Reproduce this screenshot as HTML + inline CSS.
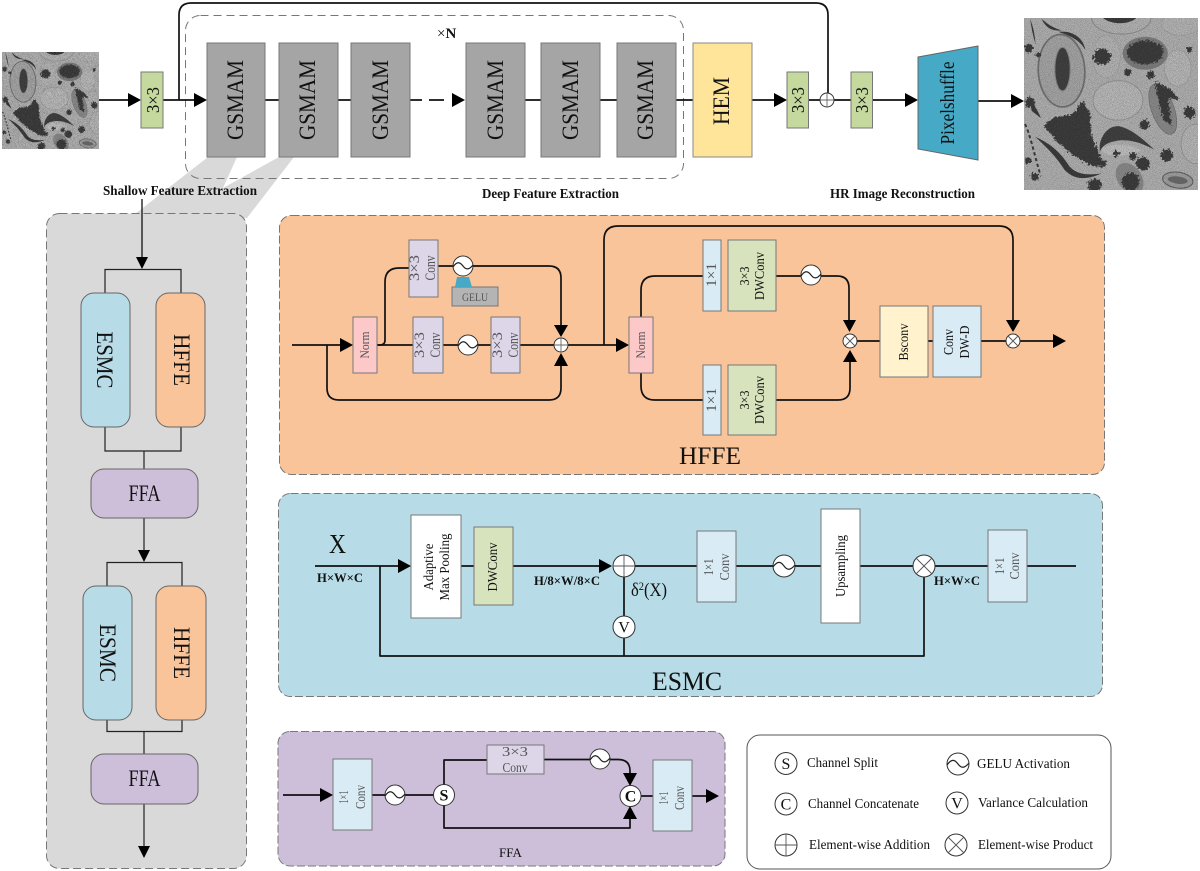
<!DOCTYPE html>
<html><head><meta charset="utf-8"><style>
html,body{margin:0;padding:0;background:#fff;width:1200px;height:871px;overflow:hidden}
svg{display:block;filter:blur(0.35px)}
text{font-family:"Liberation Serif",serif;fill:#111}
.l{fill:none;stroke:#111;stroke-width:1.7;stroke-linejoin:round}
.b{stroke:#777;stroke-width:1}
.g{fill:#555}
.bd{font-weight:bold}
</style></head><body>
<svg width="1200" height="871" viewBox="0 0 1200 871" xmlns="http://www.w3.org/2000/svg">
<defs>
<filter id="jag" x="-5%" y="-5%" width="110%" height="110%"><feTurbulence type="fractalNoise" baseFrequency="0.16" numOctaves="3" seed="4"/><feDisplacementMap in="SourceGraphic" scale="20" xChannelSelector="R" yChannelSelector="G"/></filter>
<filter id="grain" x="0" y="0" width="1" height="1"><feTurbulence type="fractalNoise" baseFrequency="0.55" numOctaves="2" seed="9"/><feColorMatrix type="matrix" values="0 0 0 0 0.1  0 0 0 0 0.1  0 0 0 0 0.1  1.3 0 0 0 -0.42"/></filter>
<g id="gelu"><circle r="10" fill="#fff" stroke="#333" stroke-width="1"/><path d="M-10 1C-6-5-3-4 0 0S6 4 10-1" fill="none" stroke="#222" stroke-width="1.2"/></g>
<g id="plus"><circle r="7" fill="#fff" stroke="#333" stroke-width="1"/><path d="M-7 0H7M0-7V7" stroke="#666" stroke-width=".9"/></g>
<g id="times"><circle r="7" fill="#fff" stroke="#333" stroke-width="1"/><path d="M-5-5L5 5M-5 5L5-5" stroke="#555" stroke-width=".9"/></g>
<g id="plusb"><circle r="11" fill="#fff" stroke="#333" stroke-width="1"/><path d="M-11 0H11M0-11V11" stroke="#555" stroke-width=".9"/></g>
<g id="timesb"><circle r="11" fill="#fff" stroke="#333" stroke-width="1"/><path d="M-8-8L8 8M-8 8L8-8" stroke="#555" stroke-width=".9"/></g>
<g id="gelub"><circle r="11" fill="#fff" stroke="#333" stroke-width="1"/><path d="M-11 1C-6-6-3-4 0 0S6 5 11-1" fill="none" stroke="#222" stroke-width="1.2"/></g>
<symbol id="micro" viewBox="27 18 524 522" preserveAspectRatio="none">
<rect x="27" y="18" width="524" height="522" fill="#b9b9b9"/>
<ellipse cx="320" cy="15" rx="90" ry="52" fill="#bcbcbc" stroke="#8f8f8f" stroke-width="3"/>
<ellipse cx="500" cy="35" rx="60" ry="35" fill="#bebebe" stroke="#a5a5a5" stroke-width="2"/>
<ellipse cx="140" cy="178" rx="70" ry="110" transform="rotate(-3 140 178)" fill="#acacac" stroke="#6e6e6e" stroke-width="5"/>
<ellipse cx="143" cy="173" rx="23" ry="66" fill="#333" stroke="#8a8a8a" stroke-width="3"/>
<ellipse cx="310" cy="268" rx="75" ry="60" fill="#c3c3c3" stroke="#9a9a9a" stroke-width="3"/>
<ellipse cx="275" cy="135" rx="42" ry="65" fill="#bdbdbd" stroke="#a8a8a8" stroke-width="2"/>
<ellipse cx="490" cy="170" rx="40" ry="55" fill="#c2c2c2" stroke="#a0a0a0" stroke-width="2"/>
<ellipse cx="545" cy="400" rx="45" ry="60" fill="#c0c0c0" stroke="#909090" stroke-width="2"/>
<ellipse cx="445" cy="295" rx="34" ry="80" transform="rotate(-20 445 295)" fill="#8c8c8c" stroke="#6b6b6b" stroke-width="2"/>
<ellipse cx="392" cy="125" rx="68" ry="50" fill="#7d7d7d"/>
<ellipse cx="490" cy="510" rx="46" ry="24" transform="rotate(8 490 510)" fill="#a5a5a5" stroke="#555" stroke-width="3"/>
<ellipse cx="345" cy="505" rx="36" ry="52" transform="rotate(-35 345 505)" fill="#8b8b8b"/>
<path d="M255 405C262 360 295 340 320 348C360 360 395 395 420 418C370 390 330 385 300 392C280 395 262 405 255 425Z" fill="#333"/>
<path d="M262 412C300 395 340 400 380 420C340 440 290 440 262 425Z" fill="#cbcbcb"/>
<g filter="url(#jag)" fill="#2d2d2d">
<path d="M85 345L120 318 172 310 205 270 228 310 228 370 252 425 268 472 225 465 170 432 122 388Z"/>
<ellipse cx="392" cy="122" rx="55" ry="36"/>
<path d="M420 210L470 235 495 265 460 262 472 345 445 325Z"/>
<ellipse cx="348" cy="515" rx="26" ry="28"/>
<ellipse cx="262" cy="135" rx="26" ry="24"/>
<circle cx="390" cy="342" r="15"/><circle cx="525" cy="305" r="18"/><circle cx="408" cy="190" r="12"/>
<circle cx="45" cy="275" r="15"/><circle cx="42" cy="110" r="13"/><circle cx="340" cy="183" r="11"/>
<circle cx="458" cy="435" r="18"/><circle cx="385" cy="460" r="20"/><circle cx="305" cy="430" r="9"/><circle cx="355" cy="438" r="11"/>
<circle cx="40" cy="450" r="10"/><circle cx="60" cy="500" r="12"/><circle cx="240" cy="525" r="20"/><circle cx="525" cy="115" r="9"/>
<circle cx="265" cy="460" r="10"/><circle cx="70" cy="130" r="8"/>
</g>
<path d="M60 378C110 400 140 430 165 470C190 495 220 495 260 490C215 510 180 510 150 480C125 440 95 410 60 378Z" fill="#2d2d2d"/>
<path d="M80 20C100 40 120 50 140 55C110 60 90 45 80 20Z" fill="#2d2d2d"/>
<path d="M130 60C170 55 205 75 212 115C195 85 165 70 130 60Z" fill="#2d2d2d"/>
<path d="M265 18H365C345 38 290 40 265 18Z" fill="#2d2d2d"/>
<path d="M45 20C55 45 60 70 62 100L52 60Z" fill="#2d2d2d"/>
<path d="M42 250C55 280 70 300 78 322L50 300Z" fill="#2d2d2d"/>
<path d="M30 340C45 370 55 420 75 490" fill="none" stroke="#2d2d2d" stroke-width="6" stroke-dasharray="10 8"/>
<ellipse cx="490" cy="510" rx="30" ry="11" transform="rotate(8 490 510)" fill="#666"/>
<rect x="27" y="18" width="524" height="522" filter="url(#grain)"/>
</symbol>
</defs>

<rect width="1200" height="871" fill="#fff"/>

<!-- images -->
<use href="#micro" x="2" y="52" width="97" height="97"/>
<use href="#micro" x="1024" y="18" width="174" height="172"/>

<!-- grey projection -->
<polygon points="208,157 237,157 223,188 279,157 294,157 247,218 135,214" fill="#d9d9d9"/>

<!-- dashed container -->
<rect x="185.500" y="15.500" width="498" height="163" rx="15" fill="none" stroke="#777" stroke-width="1" stroke-dasharray="8 5"/>

<!-- top lines -->
<path class="l" d="M99 100H130M163 100H195M179 100V15Q179 3 191 3H816Q828 3 828 15V93"/>
<polygon points="128,93 141,100 128,107" fill="#000"/>
<polygon points="194,93 207,100 194,107" fill="#000"/>
<path class="l" d="M265 100H279M338 100H351M525 100H541M600 100H617M676 100H693"/>
<path class="l" d="M410 100H422M429 100H444"/>
<polygon points="452,93 465,100 452,107" fill="#000"/>
<path class="l" d="M752 100H775M808 100H851M872 100H906M978 101H1012"/>
<polygon points="774,93 787,100 774,107" fill="#000"/>
<polygon points="905,93 918,100 905,107" fill="#000"/>
<polygon points="1011,94 1024,101 1011,108" fill="#000"/>

<rect x="141" y="72" width="22" height="56" fill="#c5d89d" class="b"/>
<text transform="translate(159,100) rotate(-90)" text-anchor="middle" font-size="18" textLength="26" lengthAdjust="spacingAndGlyphs">3×3</text>

<g fill="#a5a5a5" stroke="#777" stroke-width="1">
<rect x="207" y="43" width="58" height="114"/><rect x="279" y="43" width="59" height="114"/><rect x="351" y="43" width="59" height="114"/>
<rect x="466" y="43" width="59" height="114"/><rect x="541" y="43" width="59" height="114"/><rect x="617" y="43" width="59" height="114"/>
</g>
<g font-size="23" text-anchor="middle">
<text transform="translate(243,100) rotate(-90)" textLength="80" lengthAdjust="spacingAndGlyphs">GSMAM</text>
<text transform="translate(315,100) rotate(-90)" textLength="80" lengthAdjust="spacingAndGlyphs">GSMAM</text>
<text transform="translate(388,100) rotate(-90)" textLength="80" lengthAdjust="spacingAndGlyphs">GSMAM</text>
<text transform="translate(503,100) rotate(-90)" textLength="80" lengthAdjust="spacingAndGlyphs">GSMAM</text>
<text transform="translate(578,100) rotate(-90)" textLength="80" lengthAdjust="spacingAndGlyphs">GSMAM</text>
<text transform="translate(653,100) rotate(-90)" textLength="80" lengthAdjust="spacingAndGlyphs">GSMAM</text>
</g>
<rect x="693" y="43" width="59" height="114" fill="#fee599" stroke="#888" stroke-width="1"/>
<text transform="translate(729,101) rotate(-90)" text-anchor="middle" font-size="23" textLength="48" lengthAdjust="spacingAndGlyphs">HEM</text>

<rect x="787" y="72" width="21.500" height="56" fill="#c5d89d" class="b"/>
<text transform="translate(804,100) rotate(-90)" text-anchor="middle" font-size="18" textLength="26" lengthAdjust="spacingAndGlyphs">3×3</text>
<rect x="851" y="72" width="21.500" height="56" fill="#c5d89d" class="b"/>
<text transform="translate(868,100) rotate(-90)" text-anchor="middle" font-size="18" textLength="26" lengthAdjust="spacingAndGlyphs">3×3</text>
<use href="#plus" x="827" y="100"/>
<polygon points="918,57 978,46 978,160 918,149" fill="#46a9c6" stroke="#666" stroke-width="1"/>
<text transform="translate(954,103) rotate(-90)" text-anchor="middle" font-size="20" textLength="83" lengthAdjust="spacingAndGlyphs">Pixelshuffle</text>

<text x="437" y="38" font-size="15">×<tspan font-weight="bold">N</tspan></text>
<text x="103" y="195" class="bd" font-size="13.500" textLength="154" lengthAdjust="spacingAndGlyphs">Shallow Feature Extraction</text>
<text x="482" y="198" class="bd" font-size="13.500" textLength="137" lengthAdjust="spacingAndGlyphs">Deep Feature Extraction</text>
<text x="830" y="198" class="bd" font-size="13.500" textLength="145" lengthAdjust="spacingAndGlyphs">HR Image Reconstruction</text>

<!-- left panel -->
<rect x="46.500" y="213.500" width="200" height="655" rx="13" fill="#d9d9d9" stroke="#777" stroke-width="1" stroke-dasharray="8 4"/>
<path d="M142 199V258" fill="none" stroke="#111" stroke-width="1.300"/>
<polygon points="136,257 148,257 142,269" fill="#000"/>
<path d="M105 293V269.500H181V293M105 427V451H181V427M144 451V469M144 518V552" fill="none" stroke="#222" stroke-width="1.200"/>
<polygon points="138,550 150,550 144,562" fill="#000"/>
<path d="M107 586V562.500H182V586M107 720V731.500H182V720M144 731V754M144 804V848" fill="none" stroke="#222" stroke-width="1.200"/>
<polygon points="138,846 150,846 144,858" fill="#000"/>
<rect x="81" y="293" width="49" height="134" rx="13" fill="#b7dce8" stroke="#666"/>
<rect x="156" y="293" width="49" height="134" rx="13" fill="#f9c499" stroke="#666"/>
<rect x="91" y="469" width="107" height="49" rx="13" fill="#cdbfda" stroke="#666"/>
<rect x="83" y="586" width="49" height="134" rx="13" fill="#b7dce8" stroke="#666"/>
<rect x="156" y="586" width="50" height="134" rx="13" fill="#f9c499" stroke="#666"/>
<rect x="91" y="754" width="107" height="50" rx="13" fill="#cdbfda" stroke="#666"/>
<g font-size="23" text-anchor="middle">
<text transform="translate(97,360) rotate(90)" textLength="57" lengthAdjust="spacingAndGlyphs">ESMC</text>
<text transform="translate(174,360) rotate(90)" textLength="52" lengthAdjust="spacingAndGlyphs">HFFE</text>
<text transform="translate(100,653) rotate(90)" textLength="58" lengthAdjust="spacingAndGlyphs">ESMC</text>
<text transform="translate(174,653) rotate(90)" textLength="52" lengthAdjust="spacingAndGlyphs">HFFE</text>
<text x="144.500" y="501" textLength="32" lengthAdjust="spacingAndGlyphs">FFA</text>
<text x="144.500" y="786" textLength="32" lengthAdjust="spacingAndGlyphs">FFA</text>
</g>

<!-- HFFE panel -->
<rect x="279.500" y="215.500" width="825" height="259" rx="12" fill="#f9c499" stroke="#777" stroke-width="1" stroke-dasharray="8 3"/>
<path class="l" d="M292 345H342M377 345H413M443 345H491M520 345H554M568 345H618"/>
<path class="l" d="M377 345H380Q385 345 385 340V282Q385 268 399 268H409"/>
<path class="l" d="M438 266H549Q561 266 561 278V326"/>
<path class="l" d="M327 345V388Q327 400 339 400H549Q561 400 561 388V365"/>
<polygon points="340,338 353,345 340,352" fill="#000"/>
<polygon points="554,325 568,325 561,337" fill="#000"/>
<polygon points="554,366 568,366 561,353" fill="#000"/>
<polygon points="616,338 629,345 616,352" fill="#000"/>
<path class="l" d="M604 345V240Q604 226 618 226H999Q1013 226 1013 240V320"/>
<path class="l" d="M641 317V290Q641 276 655 276H703M641 373V386Q641 400 655 400H703"/>
<path class="l" d="M776 276H837Q849 276 849 288V322"/>
<path class="l" d="M776 400H838Q850 400 850 388V361"/>
<polygon points="843,320 856,320 849.500,332" fill="#000"/>
<polygon points="843,362 857,362 850,350" fill="#000"/>
<polygon points="1006,320 1020,320 1013,332" fill="#000"/>
<path class="l" d="M857 341H880M928 341H933M981 341H1006M1020 341H1056"/>
<polygon points="1053,334 1066,341 1053,348" fill="#000"/>

<g stroke="#777" stroke-width="1">
<rect x="353" y="317" width="24" height="56" fill="#fcc8c8"/>
<rect x="409" y="240" width="29" height="57" fill="#dcd6e8"/>
<rect x="413" y="317" width="30" height="56" fill="#dcd6e8"/>
<rect x="491" y="317" width="29" height="56" fill="#dcd6e8"/>
<rect x="629" y="317" width="24" height="56" fill="#fcc8c8"/>
<rect x="452" y="287" width="46" height="19" fill="#b4b4b4"/>
<rect x="703" y="240" width="18" height="71" fill="#d9ebf4"/>
<rect x="703" y="365" width="18" height="70" fill="#d9ebf4"/>
<rect x="728" y="240" width="48" height="71" fill="#d7e3bd"/>
<rect x="728" y="365" width="48" height="70" fill="#d7e3bd"/>
<rect x="880" y="306" width="48" height="71" fill="#fff2cc"/>
<rect x="933" y="306" width="48" height="71" fill="#d9ebf4"/>
</g>
<polygon points="457,277 469,277 472,287 455,287" fill="#46a9c6"/>
<use href="#gelu" x="463" y="266"/>
<use href="#gelu" x="468" y="345"/>
<use href="#gelu" x="811" y="275"/>
<use href="#plus" x="561" y="345"/>
<use href="#times" x="850" y="341"/>
<use href="#times" x="1013" y="341"/>

<g text-anchor="middle" font-size="15">
<text class="g" transform="translate(369,345) rotate(-90)" font-size="13" textLength="27" lengthAdjust="spacingAndGlyphs">Norm</text>
<text class="g" transform="translate(645,345) rotate(-90)" font-size="13" textLength="27" lengthAdjust="spacingAndGlyphs">Norm</text>
<text class="g" transform="translate(419,268) rotate(-90)" textLength="26" lengthAdjust="spacingAndGlyphs">3×3</text>
<text class="g" transform="translate(435,268) rotate(-90)" textLength="25" lengthAdjust="spacingAndGlyphs">Conv</text>
<text class="g" transform="translate(424,345) rotate(-90)" textLength="26" lengthAdjust="spacingAndGlyphs">3×3</text>
<text class="g" transform="translate(440,345) rotate(-90)" textLength="25" lengthAdjust="spacingAndGlyphs">Conv</text>
<text class="g" transform="translate(502,345) rotate(-90)" textLength="26" lengthAdjust="spacingAndGlyphs">3×3</text>
<text class="g" transform="translate(518,345) rotate(-90)" textLength="25" lengthAdjust="spacingAndGlyphs">Conv</text>
<text class="g" x="475" y="301" font-size="12" textLength="26" lengthAdjust="spacingAndGlyphs">GELU</text>
<text class="g" transform="translate(716,275) rotate(-90)" font-size="15" textLength="24" lengthAdjust="spacingAndGlyphs">1×1</text>
<text class="g" transform="translate(716,400) rotate(-90)" font-size="15" textLength="24" lengthAdjust="spacingAndGlyphs">1×1</text>
<g font-size="14">
<text transform="translate(749,276) rotate(-90)" textLength="19" lengthAdjust="spacingAndGlyphs">3×3</text>
<text transform="translate(764,276) rotate(-90)" textLength="48" lengthAdjust="spacingAndGlyphs">DWConv</text>
<text transform="translate(749,400) rotate(-90)" textLength="19" lengthAdjust="spacingAndGlyphs">3×3</text>
<text transform="translate(764,400) rotate(-90)" textLength="48" lengthAdjust="spacingAndGlyphs">DWConv</text>
<text transform="translate(908,342) rotate(-90)" textLength="37" lengthAdjust="spacingAndGlyphs">Bsconv</text>
<text transform="translate(953,342) rotate(-90)" textLength="26" lengthAdjust="spacingAndGlyphs">Conv</text>
<text transform="translate(969,342) rotate(-90)" textLength="33" lengthAdjust="spacingAndGlyphs">DW-D</text>
</g>
</g>
<text x="679" y="464" font-size="25" textLength="62" lengthAdjust="spacingAndGlyphs">HFFE</text>

<!-- ESMC panel -->
<rect x="278.500" y="493.500" width="824" height="203" rx="12" fill="#b7dce8" stroke="#777" stroke-width="1" stroke-dasharray="8 3"/>
<path class="l" d="M315 566H400M461 566H474M513 566H602M635 566H697M736 566H821M860 566H988M1027 566H1076"/>
<polygon points="398,559 411,566 398,573" fill="#000"/>
<polygon points="599,559 612,566 599,573" fill="#000"/>
<path class="l" d="M380 566V656H924V570M624 566V656"/>
<rect x="411" y="515" width="50" height="103" fill="#fff" class="b"/>
<rect x="474" y="527" width="39" height="78" fill="#d7e3bd" class="b"/>
<rect x="697" y="531" width="39" height="71" fill="#d9ebf4" class="b"/>
<rect x="821" y="509" width="39" height="114" fill="#fff" class="b"/>
<rect x="988" y="530" width="39" height="72" fill="#d9ebf4" class="b"/>
<use href="#plusb" x="624" y="566"/>
<use href="#gelub" x="784" y="566"/>
<use href="#timesb" x="924" y="566"/>
<circle cx="624" cy="627" r="11" fill="#fff" stroke="#333"/>
<text x="624" y="632.500" text-anchor="middle" font-size="16">V</text>
<text x="329" y="553" font-size="27" textLength="17" lengthAdjust="spacingAndGlyphs">X</text>
<text x="317" y="582" class="bd" font-size="12.500" textLength="46" lengthAdjust="spacingAndGlyphs">H×W×C</text>
<text x="534" y="585" class="bd" font-size="12.500" textLength="66" lengthAdjust="spacingAndGlyphs">H/8×W/8×C</text>
<text x="934" y="585" class="bd" font-size="12.500" textLength="46" lengthAdjust="spacingAndGlyphs">H×W×C</text>
<text x="631" y="596" font-size="19" textLength="36" lengthAdjust="spacingAndGlyphs">δ<tspan font-size="12" dy="-6">2</tspan><tspan dy="6">(X)</tspan></text>
<g text-anchor="middle" font-size="14">
<text transform="translate(433,567) rotate(-90)" textLength="47" lengthAdjust="spacingAndGlyphs">Adaptive</text>
<text transform="translate(449,567) rotate(-90)" textLength="67" lengthAdjust="spacingAndGlyphs">Max Pooling</text>
<text transform="translate(497,567) rotate(-90)" textLength="49" lengthAdjust="spacingAndGlyphs">DWConv</text>
<text class="g" transform="translate(713,567) rotate(-90)" textLength="17" lengthAdjust="spacingAndGlyphs">1×1</text>
<text class="g" transform="translate(729,567) rotate(-90)" textLength="27" lengthAdjust="spacingAndGlyphs">Conv</text>
<text transform="translate(845,566) rotate(-90)" textLength="62" lengthAdjust="spacingAndGlyphs">Upsampling</text>
<text class="g" transform="translate(1004,566) rotate(-90)" textLength="17" lengthAdjust="spacingAndGlyphs">1×1</text>
<text class="g" transform="translate(1019,566) rotate(-90)" textLength="27" lengthAdjust="spacingAndGlyphs">Conv</text>
</g>
<text x="652" y="690" font-size="26" textLength="70" lengthAdjust="spacingAndGlyphs">ESMC</text>

<!-- FFA panel -->
<rect x="278" y="731.500" width="447" height="134.500" rx="12" fill="#cdbfda" stroke="#777" stroke-width="1" stroke-dasharray="8 3"/>
<path class="l" d="M283 795H322M372 795H434M444 785V760H487M544 759.500H618Q630 759.500 630 771V775M444 805V828H630V816M640 796H653M692 796H708"/>
<polygon points="320,788 333,795 320,802" fill="#000"/>
<polygon points="623,773 637,773 630,786" fill="#000"/>
<polygon points="623,819 637,819 630,806" fill="#000"/>
<polygon points="706,789 719,796 706,803" fill="#000"/>
<rect x="333" y="759" width="39" height="71" fill="#d9ebf4" class="b"/>
<rect x="653" y="760" width="39" height="71" fill="#d9ebf4" class="b"/>
<rect x="487" y="745" width="57" height="29" fill="#dcd6e8" class="b"/>
<use href="#gelu" x="395" y="795"/>
<use href="#gelu" x="600" y="759"/>
<circle cx="444" cy="795" r="10.500" fill="#fff" stroke="#333"/>
<text x="444" y="800.500" text-anchor="middle" font-size="16" font-weight="bold">S</text>
<circle cx="630.500" cy="796" r="10.500" fill="#fff" stroke="#333"/>
<text x="630.500" y="801.500" text-anchor="middle" font-size="16" font-weight="bold">C</text>
<g text-anchor="middle" font-size="14">
<text class="g" transform="translate(348,797) rotate(-90)" textLength="13" lengthAdjust="spacingAndGlyphs">1×1</text>
<text class="g" transform="translate(365,797) rotate(-90)" textLength="24" lengthAdjust="spacingAndGlyphs">Conv</text>
<text class="g" transform="translate(668,798) rotate(-90)" textLength="13" lengthAdjust="spacingAndGlyphs">1×1</text>
<text class="g" transform="translate(684,798) rotate(-90)" textLength="24" lengthAdjust="spacingAndGlyphs">Conv</text>
<text class="g" x="515" y="756" textLength="26" lengthAdjust="spacingAndGlyphs">3×3</text>
<text class="g" x="515" y="772" textLength="25" lengthAdjust="spacingAndGlyphs">Conv</text>
<text x="510.500" y="857" font-size="13" textLength="23" lengthAdjust="spacingAndGlyphs">FFA</text>
</g>

<!-- legend -->
<rect x="747" y="735" width="364" height="134" rx="13" fill="#fff" stroke="#555" stroke-width="1"/>
<g fill="#fff" stroke="#333" stroke-width="1">
<circle cx="786" cy="763.500" r="11"/>
<circle cx="786" cy="804" r="11"/>
<circle cx="957" cy="803" r="11"/>
</g>
<use href="#plusb" x="786" y="845"/>
<use href="#gelub" x="958" y="764"/>
<use href="#timesb" x="956" y="845"/>
<g font-size="16" text-anchor="middle">
<text x="786" y="769">S</text>
<text x="786" y="809.500">C</text>
<text x="957" y="808.500">V</text>
</g>
<g font-size="13.500" fill="#222">
<text x="807" y="767" textLength="71" lengthAdjust="spacingAndGlyphs">Channel Split</text>
<text x="808" y="808" textLength="111" lengthAdjust="spacingAndGlyphs">Channel Concatenate</text>
<text x="809" y="849" textLength="121" lengthAdjust="spacingAndGlyphs">Element-wise Addition</text>
<text x="977" y="768" textLength="93" lengthAdjust="spacingAndGlyphs">GELU Activation</text>
<text x="978" y="807" textLength="110" lengthAdjust="spacingAndGlyphs">Varlance Calculation</text>
<text x="978" y="849" textLength="115" lengthAdjust="spacingAndGlyphs">Element-wise Product</text>
</g>
</svg>
</body></html>
